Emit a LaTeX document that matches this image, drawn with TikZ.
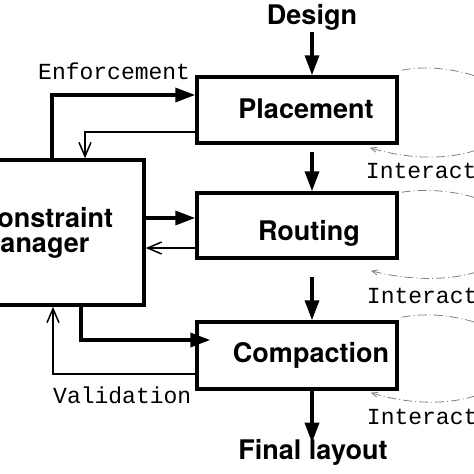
\documentclass[tikz,border=0pt]{standalone}
\usepackage{fontspec}
\newfontfamily\helv{TeX Gyre Heros}
\newfontfamily\cour{Liberation Mono}
\usepackage{tikz}
\usetikzlibrary{arrows.meta}
\usetikzlibrary{calc}

\begin{document}
\begin{tikzpicture}[x=1pt, y=-1pt,
    boxfont/.style={font=\helv\bfseries\fontsize{27}{25}\selectfont},
    procbox/.style={draw, line width=3.5pt, minimum width=200pt, minimum height=66pt, inner sep=0pt},
    boxtext/.style={boxfont, anchor=base, inner sep=2pt},
    tag/.style={font=\cour\fontsize{23}{23}\selectfont, anchor=base west, inner sep=0pt},
    bigarrow/.style={line width=3.5pt, -{Triangle[length=20pt, width=14pt]}},
    smallarrow/.style={line width=1.5pt, -{Straight Barb[length=14pt, width=12pt]}},
    loopline/.style={black!50, line width=0.8pt, dash pattern=on 9pt off 3pt on 1pt off 3pt,
      -{Straight Barb[length=6pt, width=5pt]}}]
      \useasboundingbox (0,0) rectangle (474,474);
      \clip (0,0) rectangle (474,474);
      % flow boxes
      \node[boxtext] (design) at (312,24) {Design};
      \node[procbox] (placement) at (297,110) {};
      \node[boxtext] (placementtext) at (306,118) {Placement};
      \node[procbox, minimum height=65pt] (routing) at (297,225.5) {};
      \node[boxtext] (routingtext) at (309,240) {Routing};
      \node[procbox, minimum height=67pt] (compaction) at (297,355.5) {};
      \node[boxtext] (compactiontext) at (311,362) {Compaction};
      \node[boxtext] (final) at (313,459) {Final layout};
      \node[procbox, boxfont, minimum width=197pt, minimum height=145pt, text width=135pt, align=left]
        (cm) at (45.5,232.5) {Constraint\\Manager};
      % main flow
      \draw[bigarrow] (design.south) -- (design.south |- placement.north);
      \draw[bigarrow, shorten <=7pt] (placement.south -| design.south) -- (routing.north -| design.south);
      \draw[bigarrow, shorten <=17pt] (routing.south -| design.south) -- (compaction.north -| design.south);
      \draw[bigarrow, shorten >=-6pt] (compaction.south -| design.south) -- (final.north -| design.south);
      % constraint manager links
      \coordinate (enf) at (52,95);
      \coordinate (fbk) at (85,132);
      \coordinate (rt) at (0,218);
      \coordinate (rb) at (0,248);
      \coordinate (cmp) at (81,340);
      \coordinate (val) at (53,374);
      \draw[bigarrow] (cm.north -| enf) |- (placement.west |- enf);
      \draw[smallarrow] (placement.west |- fbk) -| (cm.north -| fbk);
      \draw[bigarrow] (cm.east |- rt) -- (routing.west |- rt);
      \draw[smallarrow] (routing.west |- rb) -- (cm.east |- rb);
      \draw[bigarrow, shorten >=-15pt] (cm.south -| cmp) |- (compaction.west |- cmp);
      \draw[smallarrow] (compaction.west |- val) -| (cm.south -| val);
      \node[tag] (enftag) at (38,79) {Enforcement};
      \node[tag] (valtag) at (53,403) {Validation};
      % interaction loops
      \draw[loopline] ($(placement.north east)+(3,-5)$) .. controls +(50,-10) and +(0,-25) ..
        ($(placement.east)+(118,0)$) .. controls +(0,35) and +(80,24) .. ($(placement.south east)+(-29,3)$);
      \draw[loopline] ($(routing.north east)+(3,1)$) .. controls +(50,-8) and +(0,-30) ..
        ($(routing.east)+(118,8)$) .. controls +(0,35) and +(80,20) .. ($(routing.south east)+(-28,11)$);
      \draw[loopline] ($(compaction.north east)+(3,-3)$) .. controls +(50,-10) and +(0,-25) ..
        ($(compaction.east)+(118,0)$) .. controls +(0,35) and +(80,24) .. ($(compaction.south east)+(-28,2)$);
      \node[tag] (placementloop) at ($(placement.south east)+(-33,34)$) {Interaction};
      \node[tag] (routingloop) at ($(routing.south east)+(-32,44)$) {Interaction};
      \node[tag] (compactionloop) at ($(compaction.south east)+(-32,34)$) {Interaction};
    \end{tikzpicture}
\end{document}
